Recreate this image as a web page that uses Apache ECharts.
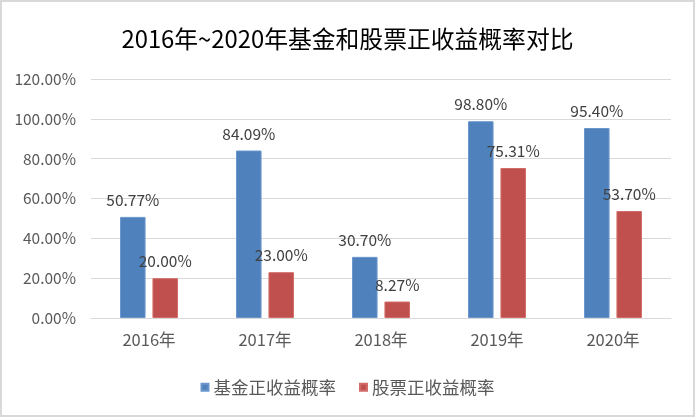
<!DOCTYPE html>
<html><head><meta charset="utf-8">
<script src="https://cdn.jsdelivr.net/npm/echarts@6/dist/echarts.min.js"></script>
<style>
html,body{margin:0;padding:0;background:#fff;}
#c{width:695px;height:417px;box-sizing:border-box;border:2px solid #d9d9d9;}
</style></head><body>
<div id="c"></div>
<script>
const categories = ['2016年','2017年','2018年','2019年','2020年'];
const fundValues = [50.77, 84.09, 30.70, 98.80, 95.40];
const stockValues = [20.00, 23.00, 8.27, 75.31, 53.70];
const seriesNames = ['基金正收益概率','股票正收益概率'];
const titleText = '2016年~2020年基金和股票正收益概率对比';

const chart = echarts.init(document.getElementById('c'));
const font = '"Microsoft YaHei","Noto Sans CJK SC",sans-serif';
const lbl = {show:true, position:'top', distance:9, color:'#404040', fontSize:15.5, fontFamily:font,
  formatter: p => p.value.toFixed(2) + '%'};
chart.setOption({
  animation:false,
  title:{text:titleText, left:'center', top:20, textStyle:{fontSize:23.8, fontWeight:'normal', color:'#000', fontFamily:font}},
  legend:{bottom:14, left:'center', itemWidth:7, itemHeight:7, itemGap:23, icon:'rect',
    textStyle:{fontSize:17.5, color:'#595959', fontFamily:font}, data:seriesNames},
  grid:{left:89, right:22, top:77, bottom:97, containLabel:false},
  xAxis:{type:'category', data:categories, axisTick:{show:false},
    axisLine:{lineStyle:{color:'#d9d9d9'}},
    axisLabel:{color:'#595959', fontSize:16.5, margin:13, fontFamily:font}},
  yAxis:{type:'value', min:0, max:120, interval:20,
    axisLabel:{color:'#595959', fontSize:15.5, margin:15, fontFamily:font, formatter:v=>v.toFixed(2)+'%'},
    splitLine:{lineStyle:{color:'#d9d9d9'}}},
  series:[
    {name:seriesNames[0], type:'bar', data:fundValues, barWidth:'22%', barGap:'27%',
      itemStyle:{color:'#4f81bd', borderColor:'#6b96cc', borderWidth:1}, label:lbl},
    {name:seriesNames[1], type:'bar', data:stockValues, barWidth:'22%', barGap:'27%',
      itemStyle:{color:'#c0504d', borderColor:'#d06b68', borderWidth:1}, label:lbl}
  ]
});
</script></body></html>
